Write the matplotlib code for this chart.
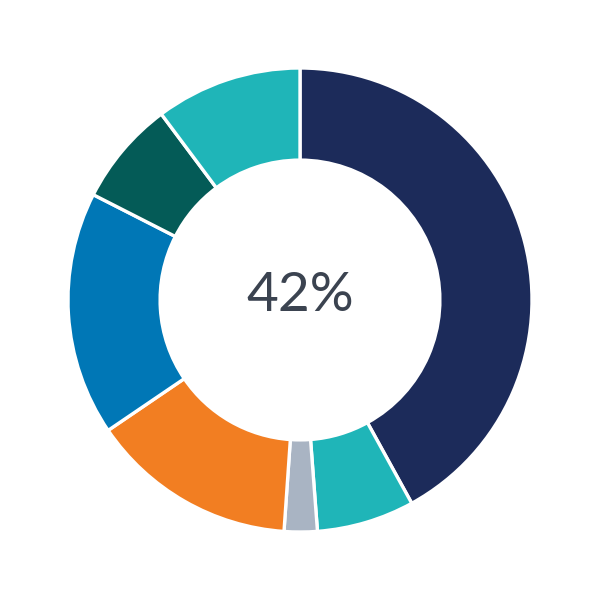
import matplotlib
matplotlib.use("Agg")
import matplotlib.pyplot as plt

values = [42.0, 6.8, 2.3, 14.4, 17.0, 7.3, 10.2]
colors = ["#1c2b5a", "#1fb5b8", "#a9b4c3", "#f27e22", "#0077b6", "#045b57", "#1fb5b8"]
center_label = "42%"

fig = plt.figure(figsize=(6, 6), dpi=100)
ax = fig.add_axes([0, 0, 1, 1])
ax.pie(values, colors=colors, startangle=90, counterclock=False,
       radius=1.0, wedgeprops=dict(width=0.397, edgecolor="white", linewidth=2.4))
lim = 300 / 232
ax.set_xlim(-lim, lim)
ax.set_ylim(-lim, lim)
ax.set_aspect("equal")
ax.axis("off")
ax.text(0, 0.02, center_label, ha="center", va="center", fontsize=39.5,
        family=["Lato", "DejaVu Sans"], color="#3b4350")
fig.savefig("out.png", dpi=100, facecolor="white")
